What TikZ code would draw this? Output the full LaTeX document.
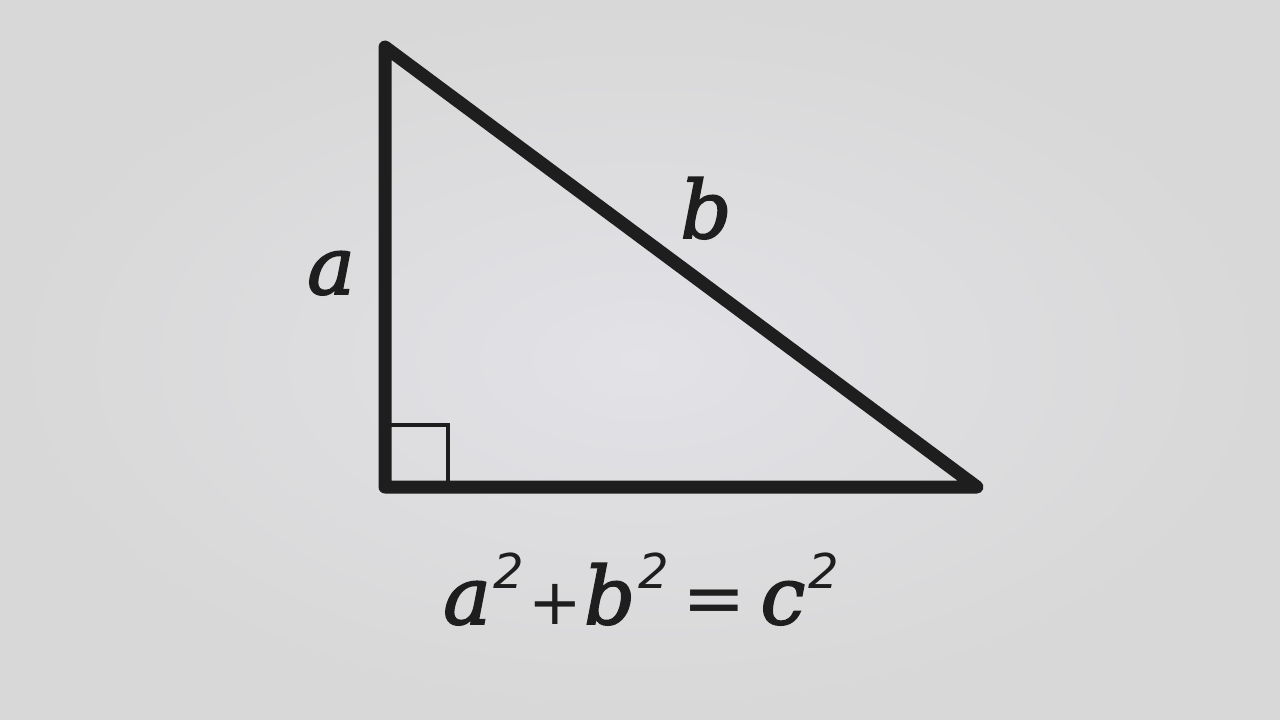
\documentclass[tikz,border=0pt]{standalone}
\usepackage{fontspec}
\newfontfamily\serifit{DejaVu Serif}[FakeBold=2.2]
\newfontfamily\sansf{DejaVu Sans}
\definecolor{bgin}{HTML}{E2E2E7}
\definecolor{bgout}{HTML}{D8D8D8}
\definecolor{ink}{HTML}{1E1E1E}
\tikzset{
  side/.style={draw=ink, line width=13pt, line join=round, line cap=round},
  rmark/.style={draw=ink, line width=3.5pt},
  lbl/.style={text=ink, font=\serifit\itshape\fontsize{80}{90}\selectfont, inner sep=0pt, anchor=base},
}
\newcommand{\sq}{\hspace{3pt}\raisebox{0.45em}{\sansf\fontsize{48}{54}\selectfont 2}}
\begin{document}
\begin{tikzpicture}[x=1pt,y=-1pt]
\useasboundingbox (0,0) rectangle (1280,720);
\shade[inner color=bgin, outer color=bgout] (0,0) rectangle (1280,720);
\coordinate (A) at (385,47);
\coordinate (B) at (385,487);
\coordinate (C) at (977,487);
\coordinate (S1) at (391,425);
\coordinate (S2) at (448,425);
\coordinate (S3) at (448,481);
\draw[rmark] (S1) -- (S2) -- (S3);
\draw[side] (A) -- (B) -- (C) -- cycle;
\node[lbl] (la) at (331,294) {a};
\node[lbl] (lb) at (706,238) {b};
\node[lbl] (eq) at (641,624) {a\sq\hspace{4pt}{\sansf\upshape\fontsize{64}{70}\selectfont +}\hspace{2pt}b\sq\hspace{14pt}{\sansf\upshape\fontsize{76}{80}\selectfont =}\hspace{14pt}c\sq};
\end{tikzpicture}
\end{document}
